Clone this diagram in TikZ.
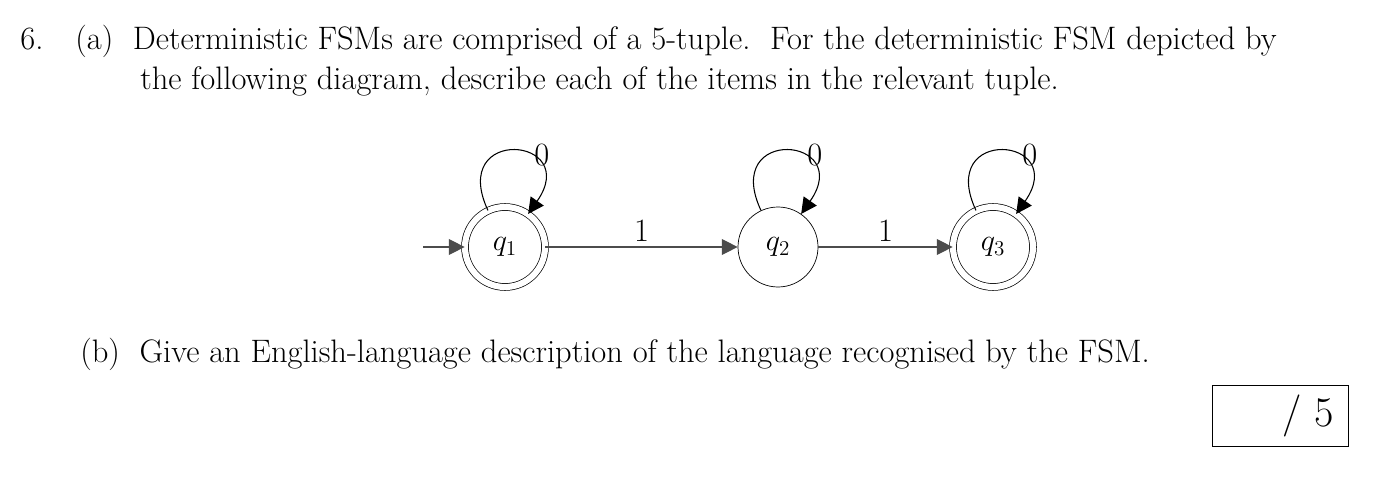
\documentclass[tikz,border=0pt]{standalone}
\usetikzlibrary{arrows.meta}
\begin{document}
\begin{tikzpicture}[x=0.02cm,y=-0.02cm,
  txt/.style={anchor=base west,inner sep=0pt,font=\fontsize{18.5}{22}\selectfont},
  st/.style={draw,circle,minimum size=80*0.02cm,inner sep=0pt,font=\fontsize{18.5}{22}\selectfont},
  acc/.style={st,double,double distance=3.5pt},
  lbl/.style={font=\fontsize{18.5}{22}\selectfont,inner sep=1pt},
  tr/.style={-{Triangle[length=9pt,width=9pt]},draw=black!70,line width=0.6pt}]
\useasboundingbox (0,0) rectangle (1392,500);
\node[txt] (n6) at (20,50) {6.};
\node[txt] (la) at (75,50) {(a)\ \ Deterministic FSMs are comprised of a 5-tuple.\ \ For the deterministic FSM depicted by};
\node[txt] (la2) at (140,90) {the following diagram, describe each of the items in the relevant tuple.};
\node[acc] (q1) at (505,247) {$q_1$};
\node[st] (q2) at (778,247) {$q_2$};
\node[acc] (q3) at (993,247) {$q_3$};
\coordinate (s) at (423,247);
\draw[tr] (s) -- (q1);
\draw[tr] (q1) -- node[lbl,above,yshift=2pt] {1} (q2);
\draw[tr] (q2) -- node[lbl,above,yshift=2pt] {1} (q3);
\draw[tr,draw=black] (q1) to[out=115,in=55,looseness=6] node[lbl,pos=0.75,above right,xshift=-4pt] {0} (q1);
\draw[tr,draw=black] (q2) to[out=115,in=55,looseness=6] node[lbl,pos=0.75,above right,xshift=-4pt] {0} (q2);
\draw[tr,draw=black] (q3) to[out=115,in=55,looseness=6] node[lbl,pos=0.75,above right,xshift=-4pt] {0} (q3);
\node[txt] (lb) at (80,362) {(b)\ \ Give an English-language description of the language recognised by the FSM.};
\node[draw,minimum width=136*0.02cm,minimum height=61*0.02cm,anchor=north west,inner sep=0pt] (box) at (1212,385) {};
\node[font=\fontsize{24}{28}\selectfont,anchor=east,inner sep=0pt] (sc) at ([xshift=-8pt]box.east) {/ 5};
\end{tikzpicture}
\end{document}
